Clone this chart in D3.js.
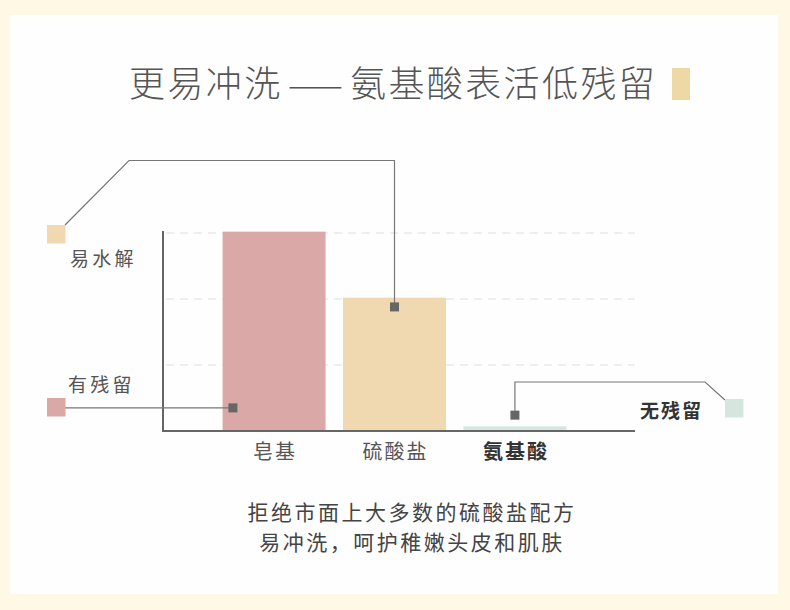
<!DOCTYPE html>
<html><head><meta charset="utf-8">
<script src="https://cdn.jsdelivr.net/npm/d3@7"></script>
<style>
html,body{margin:0;padding:0;background:#fef8e5;}
svg{display:block;font-family:"Noto Sans CJK SC","Noto Sans",sans-serif;}
</style></head>
<body>
<svg id="c" width="790" height="610"></svg>
<script>
// ---- data ----
const titleParts = ["更易冲洗", "——", "氨基酸表活低残留"];
const categories = ["皂基", "硫酸盐", "氨基酸"];
const values = [3.02, 2.02, 0.07];
const markerLevels = [0.35, 1.88, 0.24];
const markerShift = [-0.4, 0, 0]; // fraction of bar width from bar centre
const legendLabels = ["有残留", "易水解", "无残留"];
const gridTicks = [1, 2, 3];
const captionLines = ["拒绝市面上大多数的硫酸盐配方", "易冲洗，呵护稚嫩头皮和肌肤"];
const colors = ["#d9a8a7", "#f0d8b0", "#d4e6de"];

const svg = d3.select("#c");
// panel
svg.append("rect").attr("x", 10).attr("y", 15).attr("width", 768).attr("height", 579).attr("fill", "#fefefe");

// title
const t = svg.append("text").attr("y", 97).attr("font-size", 36).attr("font-weight", 300)
  .attr("letter-spacing", 2.4).attr("fill", "#555");
t.append("tspan").attr("x", 129).text(titleParts[0]);
t.append("tspan").attr("x", 288).attr("font-size", 33).attr("letter-spacing", 0).text(titleParts[1]);
t.append("tspan").attr("x", 350).text(titleParts[2]);
svg.append("rect").attr("x", 672).attr("y", 68).attr("width", 18).attr("height", 32).attr("fill", "#eed9a6");

// scales
const x0 = 163, x1 = 635;
const x = d3.scaleBand().domain(categories).range([163, 626]).paddingInner(0.145).paddingOuter(0.495);
const y = d3.scaleLinear().domain([0, 3]).range([431, 233]);

// gridlines
svg.append("g").selectAll("line").data(gridTicks).join("line")
  .attr("x1", x0 + 3).attr("x2", x1).attr("y1", d => y(d)).attr("y2", d => y(d))
  .attr("stroke", "#dedede").attr("stroke-width", 1).attr("stroke-dasharray", "8,6");

// bars
svg.append("g").selectAll("rect").data(categories).join("rect")
  .attr("x", d => x(d)).attr("width", x.bandwidth())
  .attr("y", (d, i) => y(values[i])).attr("height", (d, i) => y(0) - y(values[i]))
  .attr("fill", (d, i) => colors[i]);

// axes
const ax = svg.append("g").attr("transform", `translate(0,${y(0)})`)
  .call(d3.axisBottom(x).tickSize(0).tickPadding(10));
ax.select(".domain").remove();
ax.append("line").attr("x1", x0).attr("x2", x1).attr("stroke", "#666").attr("stroke-width", 2);
ax.selectAll(".tick text").attr("font-size", 20).attr("letter-spacing", 2)
  .attr("dx", 1).attr("font-family", '"Noto Sans CJK SC",sans-serif')
  .attr("font-weight", (d, i) => i === 2 ? 700 : 400).attr("fill", (d, i) => i === 2 ? "#333" : "#555")
  .attr("dy", "0.88em");
svg.append("line").attr("x1", x0).attr("x2", x0).attr("y1", y(3) - 2).attr("y2", y(0) + 1)
  .attr("stroke", "#666").attr("stroke-width", 2);

// leader lines & markers
const cx = i => x(categories[i]) + x.bandwidth() / 2 + markerShift[i] * x.bandwidth();
const my = i => y(markerLevels[i]);
const lc = "#777";
const leaders = [
  [[65, my(0)], [cx(0), my(0)]],
  [[cx(1), my(1)], [cx(1), 160.5], [129, 160.5], [65, 225]],
  [[cx(2), my(2)], [cx(2), 382], [705, 382], [725, 400]]
];
svg.append("g").selectAll("path").data(leaders).join("path")
  .attr("d", d => d3.line()(d)).attr("fill", "none").attr("stroke", lc).attr("stroke-width", 1.2);

svg.append("g").selectAll("rect").data(categories).join("rect")
  .attr("x", (d, i) => cx(i) - 4.5).attr("y", (d, i) => my(i) - 4.5)
  .attr("width", 9).attr("height", 9).attr("fill", "#666");

// swatches
const swatches = [[47, 398, 0], [47, 225, 1], [725, 399, 2]];
svg.append("g").selectAll("rect").data(swatches).join("rect")
  .attr("x", d => d[0]).attr("y", d => d[1]).attr("width", 18.5).attr("height", 18.5)
  .attr("fill", d => colors[d[2]]);

// legend labels
const labelPos = [[68, 392, 400, 3.2], [70, 266, 400, 3.2], [640, 418, 700, 2]];
svg.append("g").selectAll("text").data(legendLabels).join("text")
  .attr("x", (d, i) => labelPos[i][0]).attr("y", (d, i) => labelPos[i][1])
  .attr("font-size", 19).attr("letter-spacing", (d, i) => labelPos[i][3])
  .attr("font-weight", (d, i) => labelPos[i][2]).attr("fill", (d, i) => i === 2 ? "#333" : "#555")
  .text(d => d);

// caption
svg.append("g").selectAll("text").data(captionLines).join("text")
  .attr("x", 412).attr("y", (d, i) => 520 + i * 30).attr("text-anchor", "middle")
  .attr("font-size", 21).attr("letter-spacing", 2.5).attr("fill", "#444").text(d => d);
</script>
</body></html>
